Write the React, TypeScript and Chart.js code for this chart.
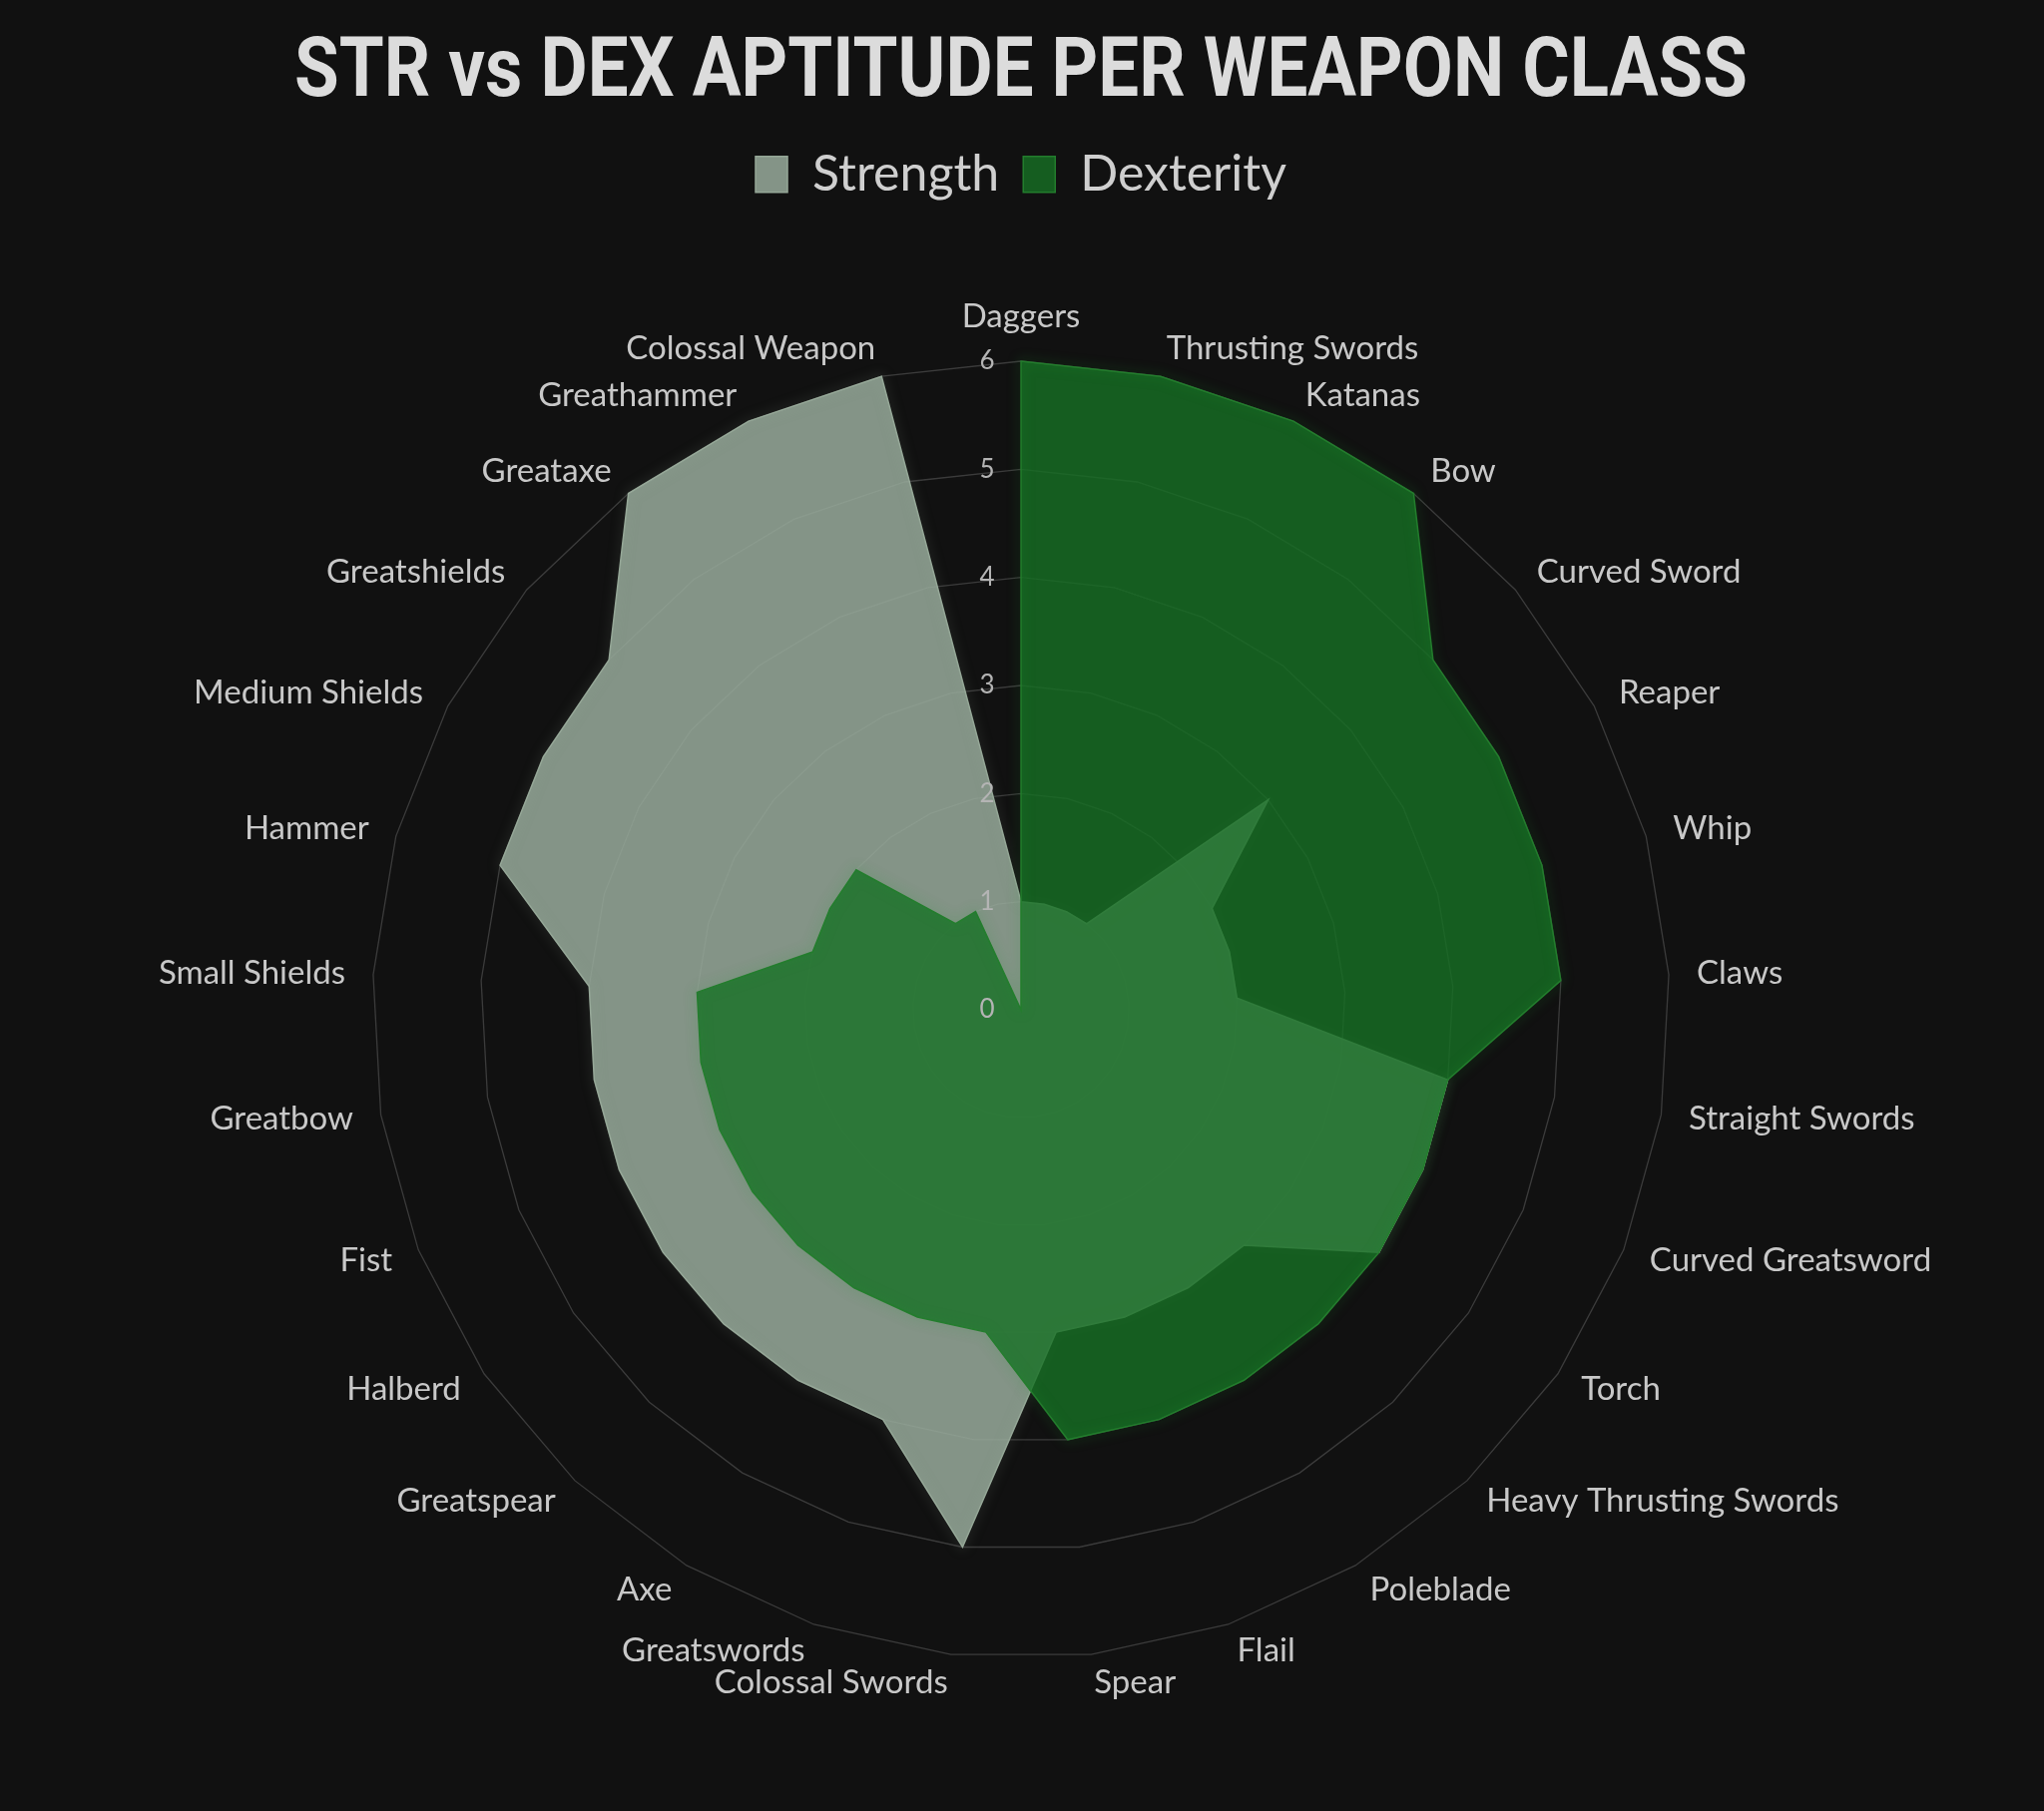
import { useEffect, useRef } from "react";
import { Chart, registerables } from "chart.js";

Chart.register(...registerables);

const WEAPON_CLASSES = [
  "Daggers", "Thrusting Swords", "Katanas", "Bow", "Curved Sword", "Reaper", "Whip", "Claws",
  "Straight Swords", "Curved Greatsword", "Torch", "Heavy Thrusting Swords", "Poleblade", "Flail",
  "Spear", "Colossal Swords", "Greatswords", "Axe", "Greatspear", "Halberd", "Fist", "Greatbow",
  "Small Shields", "Hammer", "Medium Shields", "Greatshields", "Greataxe", "Greathammer", "Colossal Weapon",
];

const STRENGTH = [1, 1, 1, 1, 3, 2, 2, 2, 4, 4, 4, 3, 3, 3, 3, 5, 4, 4, 4, 4, 4, 4, 4, 5, 5, 5, 6, 6, 6];
const DEXTERITY = [6, 6, 6, 6, 5, 5, 5, 5, 4, 4, 4, 4, 4, 4, 4, 3, 3, 3, 3, 3, 3, 3, 3, 2, 2, 2, 1, 1, 0];

const SCALE_MIN = 0;
const SCALE_MAX = 6;

const TITLE = "STR vs DEX APTITUDE PER WEAPON CLASS";

// glow on the outline only (runs after the filler, so the fill colour stays clean)
const glowPlugin = {
  id: "glow",
  beforeDatasetDraw(chart: any, args: any) {
    const ds = chart.data.datasets[args.index];
    chart.ctx.save();
    chart.ctx.shadowColor = ds.glowColor || "transparent";
    chart.ctx.shadowBlur = 12;
  },
  afterDatasetDraw(chart: any) {
    chart.ctx.restore();
  },
};

// tick numbers sit left of the vertical axis, category names around the rim
const radarTextPlugin = {
  id: "radarText",
  afterDraw(chart: any) {
    const scale = chart.scales.r;
    const ctx = chart.ctx;
    ctx.save();
    ctx.font = "26px Lato, sans-serif";
    ctx.fillStyle = "#b4b4b4";
    ctx.textAlign = "center";
    ctx.textBaseline = "middle";
    scale.ticks.forEach((t: any) => {
      const d = scale.getDistanceFromCenterForValue(t.value);
      ctx.fillText(String(t.value), scale.xCenter - 34, scale.yCenter - d);
    });

    ctx.font = "33px Lato, sans-serif";
    ctx.fillStyle = "#c8c8c8";
    (chart.data.labels as string[]).forEach((lab, i) => {
      const p = scale.getPointPosition(i, scale.drawingArea + 28);
      const dx = p.x - scale.xCenter;
      ctx.textAlign = Math.abs(dx) < 1 ? "center" : dx > 0 ? "left" : "right";
      ctx.textBaseline = Math.abs(dx) < 1 && p.y < scale.yCenter ? "bottom" : "middle";
      ctx.fillText(lab, p.x, p.y);
    });
    ctx.restore();
  },
};

export default function App() {
  const canvasRef = useRef<HTMLCanvasElement>(null);
  const chartRef = useRef<Chart | null>(null);

  useEffect(() => {
    if (!canvasRef.current) return;
    chartRef.current?.destroy();
    chartRef.current = new Chart(canvasRef.current, {
      type: "radar",
      data: {
        labels: WEAPON_CLASSES,
        datasets: [
          {
            label: "Strength",
            data: STRENGTH,
            order: 1,
            backgroundColor: "rgba(153,171,156,0.85)",
            borderColor: "rgba(150,168,152,1)",
            borderWidth: 1.5,
            pointRadius: 0,
            pointHoverRadius: 0,
            fill: true,
            glowColor: "rgba(150,172,152,0.55)",
          } as any,
          {
            label: "Dexterity",
            data: DEXTERITY,
            order: 0,
            backgroundColor: "rgba(23,113,36,0.8)",
            borderColor: "rgba(35,125,45,1)",
            borderWidth: 1.5,
            pointRadius: 0,
            pointHoverRadius: 0,
            fill: true,
            glowColor: "rgba(30,150,45,0.7)",
          } as any,
        ],
      },
      options: {
        responsive: true,
        maintainAspectRatio: false,
        animation: false,
        devicePixelRatio: 1,
        layout: { padding: { top: 0, left: 295, right: 297, bottom: 152 } },
        plugins: {
          title: {
            display: true,
            text: TITLE,
            color: "#dcdcdc",
            font: { family: "Roboto, sans-serif", weight: "bold", size: 84 },
            padding: { top: 25, bottom: 0 },
          },
          legend: {
            display: true,
            position: "top",
            reverse: true,
            labels: {
              color: "#cfcfcf",
              font: { family: "Lato, sans-serif", size: 50 },
              boxWidth: 32,
              boxHeight: 36,
              padding: 24,
            },
          },
          // empty spacer between the legend and the radar
          subtitle: {
            display: true,
            text: "",
            weight: 500,
            font: { size: 10 },
            padding: { top: 0, bottom: 141 },
          },
          tooltip: { enabled: false },
        },
        scales: {
          r: {
            min: SCALE_MIN,
            max: SCALE_MAX,
            startAngle: 0,
            ticks: { display: false, stepSize: 1 },
            pointLabels: { display: false },
            grid: { color: "rgba(255,255,255,0.18)", lineWidth: 1.3, circular: false },
            angleLines: { display: false },
          },
        },
      },
      plugins: [glowPlugin, radarTextPlugin],
    });
    return () => { chartRef.current?.destroy(); };
  }, []);

  return (
    <div style={{ position: "absolute", left: 0, top: 0, width: 2048, height: 1815, background: "#111111" }}>
      <canvas ref={canvasRef} />
    </div>
  );
}
